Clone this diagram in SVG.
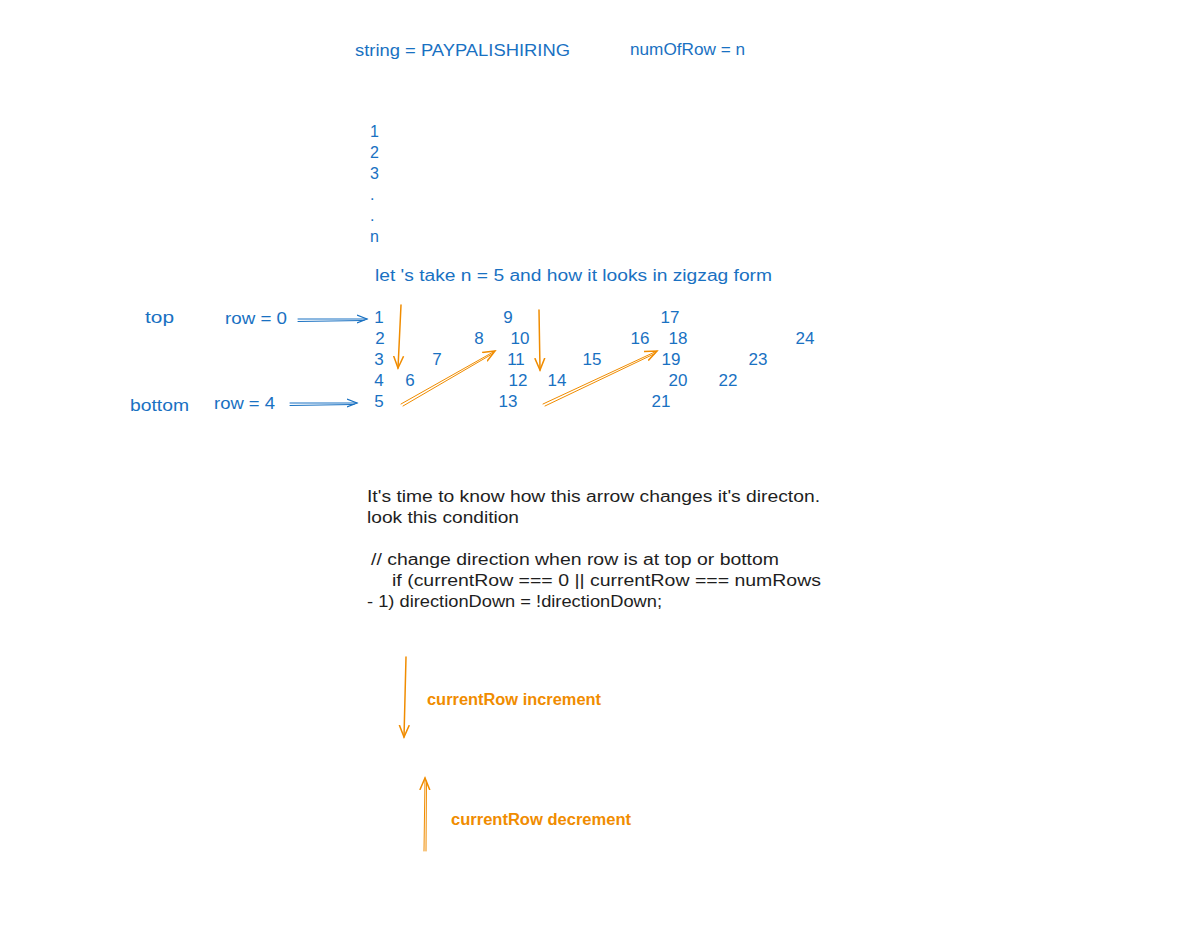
<svg xmlns="http://www.w3.org/2000/svg" width="1200" height="930" viewBox="0 0 1200 930">
<style>
.b{fill:#1971c2;font-family:"Liberation Sans",Arial,sans-serif;font-size:16px}
.g{fill:#1971c2;font-family:"Liberation Sans",Arial,sans-serif;font-size:17px;text-anchor:middle}
.k{fill:#1e1e1e;font-family:"Liberation Sans",Arial,sans-serif;font-size:16px}
.o{fill:#f08c00;font-family:"Liberation Sans",Arial,sans-serif;font-size:16px;font-weight:bold}
.lb{stroke:#1971c2;stroke-width:1;fill:none;stroke-linecap:round}
.lo{stroke:#f08c00;stroke-width:1.5;fill:none;stroke-linecap:round}
.lo2{stroke:#f08c00;stroke-width:1;fill:none;stroke-linecap:round}
</style>
<defs>
<marker id="ab" markerWidth="12" markerHeight="10" refX="10" refY="5" orient="auto" markerUnits="userSpaceOnUse"><path d="M0,1 L10,5 L0,9" fill="none" stroke="#1971c2" stroke-width="1.2"/></marker>
<marker id="ao" markerWidth="14" markerHeight="12" refX="12" refY="6" orient="auto" markerUnits="userSpaceOnUse"><path d="M0,1 L12,6 L0,11" fill="none" stroke="#f08c00" stroke-width="1.5"/></marker>
</defs>
<rect width="1200" height="930" fill="#ffffff"/>
<g id="header">
<text class="b" x="355" y="56" textLength="215" lengthAdjust="spacingAndGlyphs">string = PAYPALISHIRING</text>
<text class="b" x="630" y="55" textLength="115" lengthAdjust="spacingAndGlyphs">numOfRow = n</text>
</g>
<g id="column">
<text class="b" x="370" y="137">1</text>
<text class="b" x="370" y="158">2</text>
<text class="b" x="370" y="179">3</text>
<text class="b" x="370" y="200">.</text>
<text class="b" x="370" y="221">.</text>
<text class="b" x="370" y="242" font-size="13">n</text>
</g>
<g id="caption">
<text class="b" x="375" y="281" textLength="397" lengthAdjust="spacingAndGlyphs">let 's take n = 5 and how it looks in zigzag form</text>
</g>
<g id="labels">
<text class="b" x="145" y="323" textLength="29" lengthAdjust="spacingAndGlyphs">top</text>
<text class="b" x="225" y="324" textLength="62" lengthAdjust="spacingAndGlyphs">row = 0</text>
<text class="b" x="130" y="411" textLength="59" lengthAdjust="spacingAndGlyphs">bottom</text>
<text class="b" x="214" y="409" textLength="61" lengthAdjust="spacingAndGlyphs">row = 4</text>
</g>
<g id="grid">
<text class="g" x="379" y="323">1</text>
<text class="g" x="508" y="323">9</text>
<text class="g" x="670" y="323">17</text>
<text class="g" x="380" y="344">2</text>
<text class="g" x="479" y="344">8</text>
<text class="g" x="520" y="344">10</text>
<text class="g" x="640" y="344">16</text>
<text class="g" x="678" y="344">18</text>
<text class="g" x="805" y="344">24</text>
<text class="g" x="379" y="365">3</text>
<text class="g" x="437" y="365">7</text>
<text class="g" x="516" y="365">11</text>
<text class="g" x="592" y="365">15</text>
<text class="g" x="671" y="365">19</text>
<text class="g" x="758" y="365">23</text>
<text class="g" x="379" y="386">4</text>
<text class="g" x="410" y="386">6</text>
<text class="g" x="518" y="386">12</text>
<text class="g" x="557" y="386">14</text>
<text class="g" x="678" y="386">20</text>
<text class="g" x="728" y="386">22</text>
<text class="g" x="379" y="407">5</text>
<text class="g" x="508" y="407">13</text>
<text class="g" x="661" y="407">21</text>
</g>
<g id="explanation">
<text class="k" x="367" y="502" textLength="453" lengthAdjust="spacingAndGlyphs">It's time to know how this arrow changes it's directon.</text>
<text class="k" x="367" y="523" textLength="152" lengthAdjust="spacingAndGlyphs">look this condition</text>
<text class="k" x="371" y="565" textLength="408" lengthAdjust="spacingAndGlyphs">// change direction when row is at top or bottom</text>
<text class="k" x="392" y="586" textLength="429" lengthAdjust="spacingAndGlyphs">if (currentRow === 0 || currentRow === numRows</text>
<text class="k" x="367" y="607" textLength="295" lengthAdjust="spacingAndGlyphs">- 1) directionDown = !directionDown;</text>
</g>
<g id="legend">
<text class="o" x="427" y="705" textLength="174" lengthAdjust="spacingAndGlyphs">currentRow increment</text>
<text class="o" x="451" y="825" textLength="180" lengthAdjust="spacingAndGlyphs">currentRow decrement</text>
</g>
<g id="connectors">
<line class="lb" x1="298" y1="319" x2="367" y2="319" marker-end="url(#ab)"/>
<line class="lb" x1="298" y1="321.5" x2="364" y2="320.5"/>
<line class="lb" x1="290" y1="403" x2="357" y2="403" marker-end="url(#ab)"/>
<line class="lb" x1="290" y1="405.5" x2="354" y2="404.5"/>
<line class="lo" x1="401" y1="305" x2="398" y2="368" marker-end="url(#ao)"/>
<line class="lo" x1="539" y1="310" x2="540" y2="370" marker-end="url(#ao)"/>
<line class="lo2" x1="401" y1="404" x2="495" y2="351" marker-end="url(#ao)"/>
<line class="lo2" x1="403" y1="406" x2="493" y2="353.5"/>
<line class="lo2" x1="543" y1="404" x2="657" y2="351" marker-end="url(#ao)"/>
<line class="lo2" x1="545" y1="406" x2="655" y2="353.5"/>
<line class="lo" x1="406" y1="657" x2="404" y2="737" marker-end="url(#ao)"/>
<line class="lo2" x1="424" y1="851" x2="425" y2="778" marker-end="url(#ao)"/>
<line class="lo2" x1="426" y1="851" x2="426.5" y2="781"/>
</g>
</svg>
